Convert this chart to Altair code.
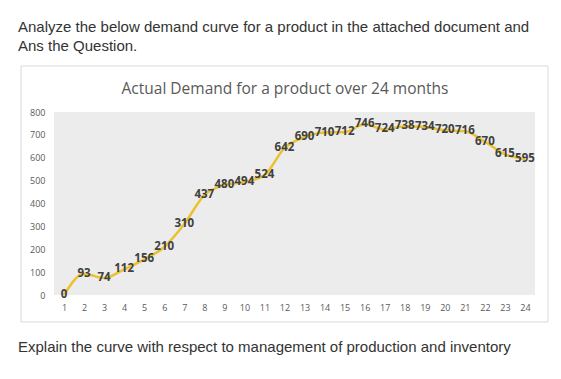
import altair as alt
import pandas as pd

months = list(range(1, 25))
demand = [0, 93, 74, 112, 156, 210, 310, 437, 480, 494, 524, 642,
          690, 710, 712, 746, 724, 738, 734, 720, 716, 670, 615, 595]
y_ticks = [0, 100, 200, 300, 400, 500, 600, 700, 800]

header_line1 = "Analyze the below demand curve for a product in the attached document and"
header_line2 = "Ans the Question."
chart_title = "Actual Demand for a product over 24 months"
footer = "Explain the curve with respect to management of production and inventory"

df = pd.DataFrame({"month": months, "demand": demand})
one = pd.DataFrame({"k": [0]})

W, H = 481, 183
PL, PT = 46, 104

x = alt.X("month:O", title=None,
          scale=alt.Scale(paddingInner=0, paddingOuter=0),
          axis=alt.Axis(labelAngle=0, domain=False, ticks=False, labelColor="#595959",
                        labelFont="Open Sans", labelFontSize=9, labelPadding=8, grid=False,
                        labelOverlap=False, zindex=2))
y = alt.Y("demand:Q", title=None,
          scale=alt.Scale(domain=[0, 800], nice=False),
          axis=alt.Axis(values=y_ticks, domain=False, ticks=False, labelColor="#595959",
                        labelFont="Open Sans", labelFontSize=9, labelPadding=9, grid=False,
                        labelOverlap=False, labelFlush=False, zindex=2))

base = alt.Chart(df).encode(x=x, y=y)


def const_text(txt, xv, yv, **kw):
    return alt.Chart(one).mark_text(text=txt, baseline="alphabetic", **kw).encode(
        x=alt.value(xv), y=alt.value(yv))


border = alt.Chart(one).mark_rect(fill="white", fillOpacity=0, stroke="#d9d9d9",
                                  strokeWidth=1).encode(
    x=alt.value(-33), x2=alt.value(494), y=alt.value(-46), y2=alt.value(210))

bg = alt.Chart(one).mark_rect(fill="#ececec").encode(
    x=alt.value(0), x2=alt.value(W), y=alt.value(0), y2=alt.value(H))

line = base.mark_line(color="#EBC12F", strokeWidth=2.5, interpolate="monotone")

labels = base.mark_text(font="Open Sans", fontWeight="bold", fontSize=11.5,
                        color="#404040", align="center", baseline="middle").encode(
    text="demand:Q")

hdr_kw = dict(font="Liberation Sans", fontSize=15, color="#333333", align="left")
h1 = const_text(header_line1, -36, -80, **hdr_kw)
h2 = const_text(header_line2, -36, -61, **hdr_kw)
foot = const_text(footer, -36, 240, **hdr_kw)
title = const_text(chart_title, 231, -18, font="Open Sans", fontSize=15.5, color="#595959",
                   align="center")

chart = alt.layer(border, bg, line, labels, title, h1, h2, foot).properties(
    width=W, height=H,
    autosize=alt.AutoSizeParams(type="none"),
    padding={"left": PL, "top": PT, "right": 18, "bottom": 76},
    background="white",
).configure_view(stroke=None)

chart.save("out.html", embed_options={"renderer": "svg", "actions": False})
